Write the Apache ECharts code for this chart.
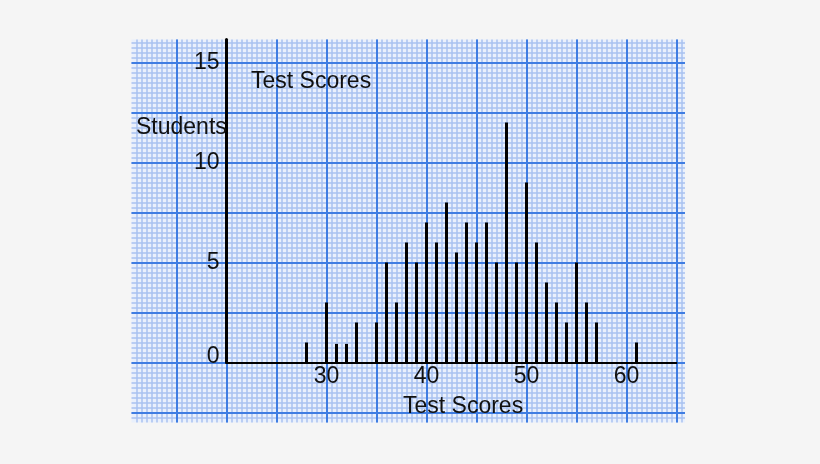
<!DOCTYPE html>
<html>
<head>
<meta charset="utf-8">
<script src="https://cdn.jsdelivr.net/npm/echarts@6/dist/echarts.min.js"></script>
<style>
html,body{margin:0;padding:0;background:#f5f5f5;}
#c{width:820px;height:464px;}
</style>
</head>
<body>
<div id="c"></div>
<script>
// Data
var scores   = [28, 30, 31, 32, 33, 35, 36, 37, 38, 39, 40, 41, 42, 43, 44, 45, 46, 47, 48, 49, 50, 51, 52, 53, 54, 55, 56, 57, 61];
var students = [1, 3, 0.93, 0.93, 2, 2, 5, 3, 6, 5, 7, 6, 8, 5.5, 7, 6, 7, 5, 12, 5, 9, 6, 4, 3, 2, 5, 3, 2, 1];
var xTickLabels = [30, 40, 50, 60];
var yTickLabels = [0, 5, 10, 15];
var chartTitle = 'Test Scores';
var xName = 'Test Scores';
var yName = 'Students';

var FONT = '"Liberation Sans", Arial, sans-serif';
var TXT = '#111';
var MINOR = '#a9c2f0';
var MAJOR = '#3f7de2';
var PAPER = '#e9f0fc';

var chart = echarts.init(document.getElementById('c'), null, {renderer: 'canvas'});

var option = {
  backgroundColor: '#f5f5f5',
  animation: false,
  title: [
    {text: chartTitle, left: 251, top: 70, padding: 0,
     textStyle: {fontFamily: FONT, fontSize: 23, fontWeight: 'normal', color: TXT}},
    {text: yName, left: 136, top: 116, padding: 0,
     textStyle: {fontFamily: FONT, fontSize: 23, fontWeight: 'normal', color: TXT}},
    {text: xName, left: 403, top: 395.5, padding: 0,
     textStyle: {fontFamily: FONT, fontSize: 23, fontWeight: 'normal', color: TXT}}
  ],
  grid: [
    // main plotting grid
    {left: 226.5, top: 39.5, width: 450, height: 323, show: false, containLabel: false},
    // graph paper
    {left: 131.5, top: 39.5, width: 553.5, height: 383, show: true,
     backgroundColor: PAPER, borderWidth: 0, containLabel: false}
  ],
  xAxis: [
    {type: 'value', gridIndex: 0, min: 20, max: 65, interval: 10, z: 5,
     axisLine: {show: true, lineStyle: {color: '#000', width: 2}},
     axisTick: {show: false},
     splitLine: {show: false},
     axisLabel: {show: true, margin: 3, fontFamily: FONT, fontSize: 23, color: TXT,
       showMinLabel: false, showMaxLabel: false,
       formatter: function (v) { return xTickLabels.indexOf(v) >= 0 ? String(v) : ''; }}
    },
    // paper minor lines (cell units: 1 cell = 0.5 score)
    {type: 'value', gridIndex: 1, min: 21, max: 131.7, interval: 1, z: 0,
     axisLine: {show: false}, axisTick: {show: false}, axisLabel: {show: false},
     splitLine: {show: true, showMinLine: false, showMaxLine: false,
       lineStyle: {color: MINOR, width: 1.5}}
    },
    // paper major lines
    {type: 'value', gridIndex: 1, min: 21, max: 131.7, splitNumber: 11, z: 1,
     axisLine: {show: false}, axisTick: {show: false}, axisLabel: {show: false},
     splitLine: {show: true, showMinLine: false, showMaxLine: false,
       lineStyle: {color: MAJOR, width: 2}}
    }
  ],
  yAxis: [
    {type: 'value', gridIndex: 0, min: 0, max: 16.15, interval: 5, z: 5,
     axisLine: {show: true, lineStyle: {color: '#000', width: 3}},
     axisTick: {show: false},
     splitLine: {show: false},
     axisLabel: {show: true, margin: 7, fontFamily: FONT, fontSize: 23, color: TXT,
       showMaxLabel: false,
       formatter: function (v) {
         if (yTickLabels.indexOf(v) < 0) return '';
         return v === 0 ? '{z|0}' : String(v);
       },
       rich: {z: {fontFamily: FONT, fontSize: 23, color: TXT, padding: [0, 0, 11, 0]}}}
    },
    // paper minor lines (cell units: 1 cell = 0.25 student)
    {type: 'value', gridIndex: 1, min: -12, max: 64.6, interval: 1, z: 0,
     axisLine: {show: false}, axisTick: {show: false}, axisLabel: {show: false},
     splitLine: {show: true, showMinLine: false, showMaxLine: false,
       lineStyle: {color: MINOR, width: 1.5}}
    },
    // paper major lines
    {type: 'value', gridIndex: 1, min: -12, max: 64.6, splitNumber: 8, z: 1,
     axisLine: {show: false}, axisTick: {show: false}, axisLabel: {show: false},
     splitLine: {show: true, showMinLine: false, showMaxLine: false,
       lineStyle: {color: MAJOR, width: 2}}
    }
  ],
  series: [
    {type: 'bar', xAxisIndex: 0, yAxisIndex: 0, z: 4,
     barWidth: 3,
     itemStyle: {color: '#000'},
     data: scores.map(function (s, i) { return [s, students[i]]; })
    }
  ]
};
chart.setOption(option);
</script>
</body>
</html>
